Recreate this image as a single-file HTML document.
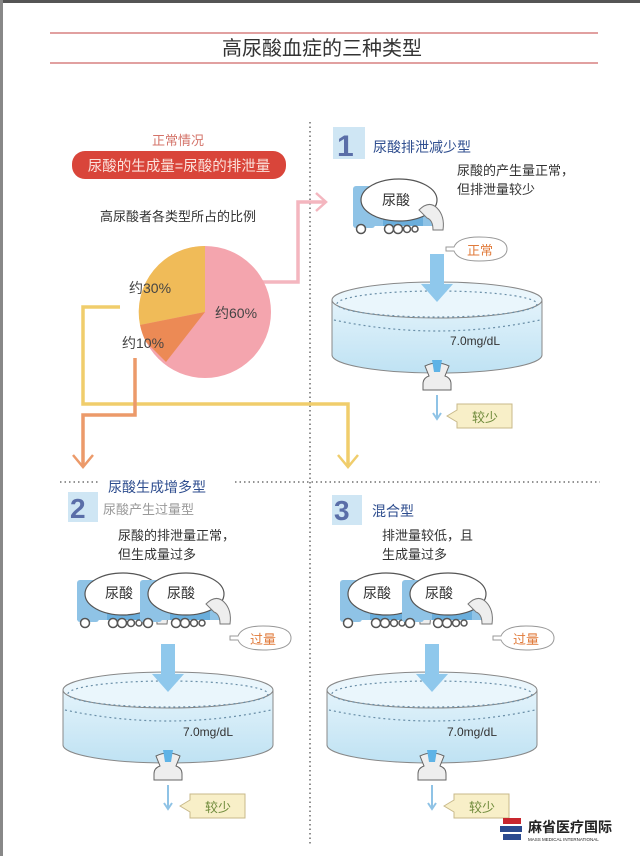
<!DOCTYPE html>
<html><head><meta charset="utf-8"><style>
html,body{margin:0;padding:0;background:#fff}
svg{display:block}
text{font-family:"Liberation Sans","Noto Sans CJK SC",sans-serif}
</style></head><body>
<svg width="640" height="856" viewBox="0 0 640 856" xmlns="http://www.w3.org/2000/svg">
<defs>
  <linearGradient id="water" x1="0" y1="0" x2="0" y2="1">
    <stop offset="0" stop-color="#e3f3fb"/><stop offset="1" stop-color="#bfe2f3"/>
  </linearGradient>
  <g id="truck">
    <rect x="0" y="8" width="22" height="42" rx="3" fill="#8fc3e6"/>
    <rect x="0" y="36" width="88" height="12" fill="#8fc3e6"/>
    <rect x="30" y="36" width="40" height="12" fill="#6aaedc"/>
    <ellipse cx="46" cy="22" rx="38" ry="21" fill="#fff" stroke="#555" stroke-width="1.2"/>
    <path d="M66 32 q10 -10 18 -2 q8 8 6 22 l-10 0 q0 -10 -6 -12 z" fill="#eee" stroke="#777" stroke-width="1"/>
    <g fill="#fff" stroke="#555" stroke-width="1.5">
      <circle cx="8" cy="51" r="4.5"/><circle cx="36" cy="51" r="4.5"/><circle cx="45" cy="51" r="4.5"/>
      <circle cx="54" cy="51" r="3.5"/><circle cx="62" cy="51" r="3"/>
    </g>
  </g>
  <g id="tank">
    <path d="M-105 0 L-105 55 A105 18 0 0 0 105 55 L105 0 Z" fill="url(#water)" stroke="#888" stroke-width="1"/>
    <ellipse cx="0" cy="0" rx="105" ry="18" fill="#eaf6fc" stroke="#888" stroke-width="1"/>
    <ellipse cx="0" cy="4" rx="100" ry="13" fill="none" stroke="#6a8fa8" stroke-width="1.2" stroke-dasharray="2 3"/>
    <path d="M-103 20 Q0 42 103 20" fill="none" stroke="#6a8fa8" stroke-width="1.2" stroke-dasharray="2 3"/>
    <path d="M-7 -46 h14 v30 h9 l-16 18 l-16 -18 h9 z" fill="#8fc8ec"/>
    <path d="M-12 66 q12 -6 24 0 l-4 10 q6 2 6 8 v6 h-28 v-6 q0 -6 6 -8 z" fill="#eee" stroke="#666" stroke-width="1"/>
    <path d="M-5 60 h10 l-2 12 h-6 z" fill="#5fb3e6"/>
    <line x1="0" y1="95" x2="0" y2="118" stroke="#8fc3e6" stroke-width="2"/>
    <path d="M-4 113 l4 6 l4 -6" fill="none" stroke="#8fc3e6" stroke-width="2"/>
  </g>
</defs>
<!-- frame -->
<rect x="0" y="0" width="640" height="3" fill="#555"/>
<rect x="0" y="0" width="3" height="856" fill="#888"/>
<!-- title -->
<line x1="50" y1="33" x2="598" y2="33" stroke="#d78080" stroke-width="1.5"/>
<line x1="50" y1="63" x2="598" y2="63" stroke="#d78080" stroke-width="1.5"/>
<text x="322" y="55" font-size="20" text-anchor="middle" fill="#333">高尿酸血症的三种类型</text>
<!-- dividers -->
<line x1="310" y1="122" x2="310" y2="845" stroke="#555" stroke-width="1.3" stroke-dasharray="1.5 3"/>
<line x1="60" y1="482" x2="100" y2="482" stroke="#555" stroke-width="1.3" stroke-dasharray="1.5 3"/>
<line x1="235" y1="482" x2="600" y2="482" stroke="#555" stroke-width="1.3" stroke-dasharray="1.5 3"/>
<!-- normal -->
<text x="178" y="145" font-size="13" text-anchor="middle" fill="#d4746a">正常情况</text>
<rect x="72" y="151" width="214" height="28" rx="13" fill="#d9453a"/>
<text x="179" y="171" font-size="14.5" text-anchor="middle" fill="#fbe2dc">尿酸的生成量=尿酸的排泄量</text>
<text x="178" y="221" font-size="13" text-anchor="middle" fill="#333">高尿酸者各类型所占的比例</text>
<!-- connectors -->
<polyline points="262,282 298,282 298,202 325,202" fill="none" stroke="#f4b6bf" stroke-width="3.5"/>
<path d="M316 193 l10 9 l-10 9" fill="none" stroke="#f4b6bf" stroke-width="2.5"/>
<!-- pie -->
<circle cx="205" cy="312" r="66" fill="#f4a5ae"/>
<path d="M205 312 L205 246 A66 66 0 0 0 140 325 Z" fill="#f0bb58"/>
<path d="M205 312 L140 325 A66 66 0 0 0 146 342 L166 362 Z" fill="#ec8a55"/>
<text x="215" y="318" font-size="14" fill="#444">约60%</text>
<text x="129" y="293" font-size="14" fill="#444">约30%</text>
<text x="122" y="348" font-size="14" fill="#444">约10%</text>
<polyline points="120,307 83,307 83,404 348,404 348,465" fill="none" stroke="#f0cd6c" stroke-width="3.5"/>
<path d="M338 455 l10 12 l10 -12" fill="none" stroke="#f0cd6c" stroke-width="2.5"/>
<polyline points="135,358 135,415 83,415 83,465" fill="none" stroke="#ec9a6a" stroke-width="3.5"/>
<path d="M73 455 l10 12 l10 -12" fill="none" stroke="#ec9a6a" stroke-width="2.5"/>
<!-- section 1 -->
<rect x="333" y="127" width="32" height="32" fill="#cfe6f4"/>
<text x="337" y="156" font-size="30" font-weight="bold" fill="#5a6ea8">1</text>
<text x="373" y="152" font-size="14" fill="#2f4e8f">尿酸排泄减少型</text>
<text x="457" y="175" font-size="13" fill="#333">尿酸的产生量正常，</text>
<text x="457" y="194" font-size="13" fill="#333">但排泄量较少</text>
<use href="#truck" x="353" y="178"/>
<text x="382" y="205" font-size="14" fill="#333">尿酸</text>
<use href="#tank" x="437" y="300"/>
<path d="M446 247 h8 q4 -10 25 -10 q28 0 28 12 q0 12 -28 12 q-21 0 -25 -10 h-8 z" fill="#fff" stroke="#999"/>
<text x="467" y="255" font-size="13" fill="#e07a3a">正常</text>
<text x="450" y="345" font-size="12" fill="#333">7.0mg/dL</text>
<path d="M447 416 l10 -6 v-6 h55 v24 h-55 v-6 z" fill="#f8efc8" stroke="#c8b98a"/>
<text x="472" y="422" font-size="13" fill="#6e8a3a">较少</text>
<!-- section 2 -->
<rect x="68" y="492" width="30" height="30" fill="#cfe6f4"/>
<text x="70" y="518" font-size="28" font-weight="bold" fill="#5a6ea8">2</text>
<text x="108" y="492" font-size="14" fill="#2f4e8f">尿酸生成增多型</text>
<text x="103" y="514" font-size="13" fill="#999">尿酸产生过量型</text>
<text x="118" y="540" font-size="13" fill="#333">尿酸的排泄量正常，</text>
<text x="118" y="559" font-size="13" fill="#333">但生成量过多</text>
<use href="#truck" x="77" y="572"/>
<use href="#truck" x="140" y="572"/>
<text x="105" y="598" font-size="14" fill="#333">尿酸</text>
<text x="167" y="598" font-size="14" fill="#333">尿酸</text>
<use href="#tank" x="168" y="690"/>
<path d="M230 636 h8 q4 -10 25 -10 q28 0 28 12 q0 12 -28 12 q-21 0 -25 -10 h-8 z" fill="#fff" stroke="#999"/>
<text x="250" y="644" font-size="13" fill="#e07a3a">过量</text>
<text x="183" y="736" font-size="12" fill="#333">7.0mg/dL</text>
<path d="M180 806 l10 -6 v-6 h55 v24 h-55 v-6 z" fill="#f8efc8" stroke="#c8b98a"/>
<text x="205" y="812" font-size="13" fill="#6e8a3a">较少</text>
<!-- section 3 -->
<rect x="332" y="495" width="30" height="30" fill="#cfe6f4"/>
<text x="334" y="520" font-size="28" font-weight="bold" fill="#5a6ea8">3</text>
<text x="372" y="516" font-size="14" fill="#2f4e8f">混合型</text>
<text x="382" y="540" font-size="13" fill="#333">排泄量较低，且</text>
<text x="382" y="559" font-size="13" fill="#333">生成量过多</text>
<use href="#truck" x="340" y="572"/>
<use href="#truck" x="402" y="572"/>
<text x="363" y="598" font-size="14" fill="#333">尿酸</text>
<text x="425" y="598" font-size="14" fill="#333">尿酸</text>
<use href="#tank" x="432" y="690"/>
<path d="M493 636 h8 q4 -10 25 -10 q28 0 28 12 q0 12 -28 12 q-21 0 -25 -10 h-8 z" fill="#fff" stroke="#999"/>
<text x="513" y="644" font-size="13" fill="#e07a3a">过量</text>
<text x="447" y="736" font-size="12" fill="#333">7.0mg/dL</text>
<path d="M444 806 l10 -6 v-6 h55 v24 h-55 v-6 z" fill="#f8efc8" stroke="#c8b98a"/>
<text x="469" y="812" font-size="13" fill="#6e8a3a">较少</text>
<!-- logo -->
<rect x="503" y="818" width="18" height="6" fill="#c8262e"/>
<rect x="500" y="826" width="22" height="6" fill="#2b4a8f"/>
<rect x="503" y="834" width="18" height="6" fill="#2b4a8f"/>
<text x="528" y="832" font-size="14" font-weight="bold" fill="#222">麻省医疗国际</text>
<text x="528" y="841" font-size="4.5" fill="#222">MASS MEDICAL INTERNATIONAL</text>
</svg>
</body></html>
